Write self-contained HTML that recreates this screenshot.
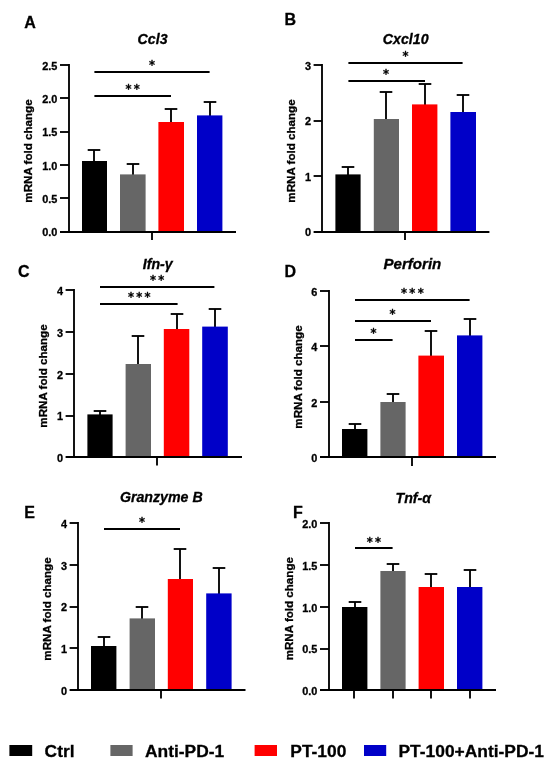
<!DOCTYPE html>
<html lang="en">
<head>
<meta charset="utf-8">
<title>mRNA fold change</title>
<style>
html,body{margin:0;padding:0;background:#fff;}
body{width:550px;height:764px;overflow:hidden;}
svg{display:block;}
text{font-family:"Liberation Sans", sans-serif;fill:#000;stroke:#000;stroke-width:0.3px;}
.tk{font-size:10.9px;font-weight:bold;text-anchor:end;}
.yl{font-size:11.6px;font-weight:bold;text-anchor:middle;}
.tt{font-size:14.2px;font-weight:bold;font-style:italic;text-anchor:middle;}
.pl{font-size:16px;font-weight:bold;}
.st{font-family:"DejaVu Sans","Liberation Sans",sans-serif;font-size:11.5px;font-weight:bold;text-anchor:middle;letter-spacing:2.25px;}
.lg{font-size:17.4px;font-weight:bold;}
.ln{stroke:#000;stroke-width:1.85;fill:none;}
</style>
</head>
<body>
<svg width="550" height="764" viewBox="0 0 550 764">
<rect x="0" y="0" width="550" height="764" fill="#ffffff"/>
<g id="panel-A">
<text class="pl" x="24.2" y="28.2">A</text>
<text class="tt" x="152.6" y="43.6">Ccl3</text>
<text class="yl" transform="translate(29.5,151) rotate(-90)" x="0" y="2.7">mRNA fold change</text>
<line class="ln" x1="94" y1="162" x2="94" y2="150"/><line class="ln" x1="87.7" y1="150" x2="100.3" y2="150"/><rect x="82" y="161" width="25" height="71" fill="#000000"/>
<line class="ln" x1="133" y1="175.4" x2="133" y2="164"/><line class="ln" x1="126.7" y1="164" x2="139.3" y2="164"/><rect x="120" y="174.4" width="25.6" height="57.6" fill="#666666"/>
<line class="ln" x1="171" y1="123" x2="171" y2="109"/><line class="ln" x1="164.7" y1="109" x2="177.3" y2="109"/><rect x="158.4" y="122" width="25.6" height="110" fill="#ff0000"/>
<line class="ln" x1="210" y1="116.4" x2="210" y2="102"/><line class="ln" x1="203.7" y1="102" x2="216.3" y2="102"/><rect x="197" y="115.4" width="25.4" height="116.6" fill="#0000c8"/>
<line class="ln" x1="69" y1="64.08" x2="69" y2="232.93"/>
<line class="ln" x1="60" y1="232" x2="236" y2="232"/>
<text class="tk" x="57.4" y="236.3">0.0</text>
<line class="ln" x1="60" y1="198" x2="69" y2="198"/><text class="tk" x="57.4" y="202.98">0.5</text>
<line class="ln" x1="60" y1="165" x2="69" y2="165"/><text class="tk" x="57.4" y="169.66">1.0</text>
<line class="ln" x1="60" y1="132" x2="69" y2="132"/><text class="tk" x="57.4" y="136.34">1.5</text>
<line class="ln" x1="60" y1="98" x2="69" y2="98"/><text class="tk" x="57.4" y="103.02">2.0</text>
<line class="ln" x1="60" y1="65" x2="69" y2="65"/><text class="tk" x="57.4" y="69.7">2.5</text>
<line class="ln" x1="152" y1="232" x2="152" y2="240"/>
<line class="ln" x1="94.4" y1="72" x2="209.6" y2="72"/><text class="st" x="153.22" y="68.8">*</text>
<line class="ln" x1="94.4" y1="96" x2="171" y2="96"/><text class="st" x="133.82" y="92.8">**</text>
</g>
<g id="panel-B">
<text class="pl" x="284.4" y="24.6">B</text>
<text class="tt" x="405.7" y="43.6">Cxcl10</text>
<text class="yl" transform="translate(292.5,151) rotate(-90)" x="0" y="2.7">mRNA fold change</text>
<line class="ln" x1="348" y1="175.4" x2="348" y2="167"/><line class="ln" x1="341.7" y1="167" x2="354.3" y2="167"/><rect x="335.4" y="174.4" width="25.2" height="57.6" fill="#000000"/>
<line class="ln" x1="386" y1="120" x2="386" y2="92"/><line class="ln" x1="379.7" y1="92" x2="392.3" y2="92"/><rect x="373.8" y="119" width="25.2" height="113" fill="#666666"/>
<line class="ln" x1="425" y1="105.4" x2="425" y2="84"/><line class="ln" x1="418.7" y1="84" x2="431.3" y2="84"/><rect x="412" y="104.4" width="25.4" height="127.6" fill="#ff0000"/>
<line class="ln" x1="463" y1="113" x2="463" y2="95"/><line class="ln" x1="456.7" y1="95" x2="469.3" y2="95"/><rect x="450.4" y="112" width="25.6" height="120" fill="#0000c8"/>
<line class="ln" x1="322" y1="64.08" x2="322" y2="232.93"/>
<line class="ln" x1="313.6" y1="232" x2="489.4" y2="232"/>
<text class="tk" x="311" y="236.2">0</text>
<line class="ln" x1="313.6" y1="176" x2="322" y2="176"/><text class="tk" x="311" y="180.8">1</text>
<line class="ln" x1="313.6" y1="121" x2="322" y2="121"/><text class="tk" x="311" y="125.4">2</text>
<line class="ln" x1="313.6" y1="65" x2="322" y2="65"/><text class="tk" x="311" y="70">3</text>
<line class="ln" x1="405" y1="232" x2="405" y2="240"/>
<line class="ln" x1="348.4" y1="63" x2="462.6" y2="63"/><text class="st" x="406.52" y="59.8">*</text>
<line class="ln" x1="348.4" y1="81" x2="425" y2="81"/><text class="st" x="387.12" y="77.8">*</text>
</g>
<g id="panel-C">
<text class="pl" x="18" y="276.8">C</text>
<text class="tt" x="157.7" y="269.4">Ifn-γ</text>
<text class="yl" transform="translate(44,376) rotate(-90)" x="0" y="2.7">mRNA fold change</text>
<line class="ln" x1="100" y1="415.4" x2="100" y2="411"/><line class="ln" x1="93.7" y1="411" x2="106.3" y2="411"/><rect x="87.4" y="414.4" width="25.2" height="42.6" fill="#000000"/>
<line class="ln" x1="138" y1="365" x2="138" y2="336"/><line class="ln" x1="131.7" y1="336" x2="144.3" y2="336"/><rect x="125.6" y="364" width="25.4" height="93" fill="#666666"/>
<line class="ln" x1="177" y1="330" x2="177" y2="314"/><line class="ln" x1="170.7" y1="314" x2="183.3" y2="314"/><rect x="163.8" y="329" width="25.5" height="128" fill="#ff0000"/>
<line class="ln" x1="215" y1="327.6" x2="215" y2="309"/><line class="ln" x1="208.7" y1="309" x2="221.3" y2="309"/><rect x="202.2" y="326.6" width="25.6" height="130.4" fill="#0000c8"/>
<line class="ln" x1="74" y1="289.07" x2="74" y2="457.93"/>
<line class="ln" x1="65.6" y1="457" x2="242" y2="457"/>
<text class="tk" x="63" y="461.9">0</text>
<line class="ln" x1="65.6" y1="416" x2="74" y2="416"/><text class="tk" x="63" y="420.2">1</text>
<line class="ln" x1="65.6" y1="374" x2="74" y2="374"/><text class="tk" x="63" y="378.5">2</text>
<line class="ln" x1="65.6" y1="332" x2="74" y2="332"/><text class="tk" x="63" y="336.8">3</text>
<line class="ln" x1="65.6" y1="290" x2="74" y2="290"/><text class="tk" x="63" y="295.1">4</text>
<line class="ln" x1="157" y1="457" x2="157" y2="465.6"/>
<line class="ln" x1="100" y1="287" x2="214.4" y2="287"/><text class="st" x="158.32" y="283.8">**</text>
<line class="ln" x1="100" y1="304" x2="177.6" y2="304"/><text class="st" x="140.32" y="300.8">***</text>
</g>
<g id="panel-D">
<text class="pl" x="284.4" y="277.4">D</text>
<text class="tt" style="font-size:15.1px" x="412.4" y="269.2">Perforin</text>
<text class="yl" transform="translate(299.4,377) rotate(-90)" x="0" y="2.7">mRNA fold change</text>
<line class="ln" x1="355" y1="430" x2="355" y2="424"/><line class="ln" x1="348.7" y1="424" x2="361.3" y2="424"/><rect x="342" y="429" width="25.4" height="28" fill="#000000"/>
<line class="ln" x1="393" y1="403" x2="393" y2="394"/><line class="ln" x1="386.7" y1="394" x2="399.3" y2="394"/><rect x="380.4" y="402" width="25.2" height="55" fill="#666666"/>
<line class="ln" x1="431" y1="356.6" x2="431" y2="331"/><line class="ln" x1="424.7" y1="331" x2="437.3" y2="331"/><rect x="418.4" y="355.6" width="25.6" height="101.4" fill="#ff0000"/>
<line class="ln" x1="470" y1="336.4" x2="470" y2="319"/><line class="ln" x1="463.7" y1="319" x2="476.3" y2="319"/><rect x="457" y="335.4" width="25.4" height="121.6" fill="#0000c8"/>
<line class="ln" x1="329" y1="290.07" x2="329" y2="457.93"/>
<line class="ln" x1="320" y1="457" x2="496" y2="457"/>
<text class="tk" x="317.4" y="462.1">0</text>
<line class="ln" x1="320" y1="402" x2="329" y2="402"/><text class="tk" x="317.4" y="406.64">2</text>
<line class="ln" x1="320" y1="346" x2="329" y2="346"/><text class="tk" x="317.4" y="351.18">4</text>
<line class="ln" x1="320" y1="291" x2="329" y2="291"/><text class="tk" x="317.4" y="295.72">6</text>
<line class="ln" x1="412" y1="457" x2="412" y2="466"/>
<line class="ln" x1="355" y1="300" x2="469.6" y2="300"/><text class="st" x="413.52" y="296.8">***</text>
<line class="ln" x1="355" y1="321" x2="431" y2="321"/><text class="st" x="393.52" y="317.8">*</text>
<line class="ln" x1="355" y1="340" x2="392.6" y2="340"/><text class="st" x="374.52" y="336.8">*</text>
</g>
<g id="panel-E">
<text class="pl" x="24.2" y="518.2">E</text>
<text class="tt" x="161.3" y="501.6">Granzyme B</text>
<text class="yl" transform="translate(48,609) rotate(-90)" x="0" y="2.7">mRNA fold change</text>
<line class="ln" x1="104" y1="647" x2="104" y2="637"/><line class="ln" x1="97.7" y1="637" x2="110.3" y2="637"/><rect x="91" y="646" width="25.4" height="44" fill="#000000"/>
<line class="ln" x1="142" y1="619.4" x2="142" y2="607"/><line class="ln" x1="135.7" y1="607" x2="148.3" y2="607"/><rect x="129.6" y="618.4" width="25.4" height="71.6" fill="#666666"/>
<line class="ln" x1="180" y1="580" x2="180" y2="549"/><line class="ln" x1="173.7" y1="549" x2="186.3" y2="549"/><rect x="167.8" y="579" width="25.2" height="111" fill="#ff0000"/>
<line class="ln" x1="219" y1="594.4" x2="219" y2="568"/><line class="ln" x1="212.7" y1="568" x2="225.3" y2="568"/><rect x="206.2" y="593.4" width="25.4" height="96.6" fill="#0000c8"/>
<line class="ln" x1="78" y1="522.08" x2="78" y2="690.92"/>
<line class="ln" x1="69.6" y1="690" x2="245.5" y2="690"/>
<text class="tk" x="67" y="694.7">0</text>
<line class="ln" x1="69.6" y1="648" x2="78" y2="648"/><text class="tk" x="67" y="653">1</text>
<line class="ln" x1="69.6" y1="607" x2="78" y2="607"/><text class="tk" x="67" y="611.3">2</text>
<line class="ln" x1="69.6" y1="565" x2="78" y2="565"/><text class="tk" x="67" y="569.6">3</text>
<line class="ln" x1="69.6" y1="523" x2="78" y2="523"/><text class="tk" x="67" y="527.9">4</text>
<line class="ln" x1="161" y1="690" x2="161" y2="698.4"/>
<line class="ln" x1="104" y1="529" x2="180" y2="529"/><text class="st" x="143.12" y="525.8">*</text>
</g>
<g id="panel-F">
<text class="pl" x="293.1" y="517.6">F</text>
<text class="tt" x="413.3" y="502.6">Tnf-α</text>
<text class="yl" transform="translate(290,608.7) rotate(-90)" x="0" y="2.7">mRNA fold change</text>
<line class="ln" x1="355" y1="608" x2="355" y2="602"/><line class="ln" x1="348.7" y1="602" x2="361.3" y2="602"/><rect x="342" y="607" width="25.4" height="83" fill="#000000"/>
<line class="ln" x1="393" y1="572" x2="393" y2="564"/><line class="ln" x1="386.7" y1="564" x2="399.3" y2="564"/><rect x="380.4" y="571" width="25.2" height="119" fill="#666666"/>
<line class="ln" x1="431" y1="588" x2="431" y2="574"/><line class="ln" x1="424.7" y1="574" x2="437.3" y2="574"/><rect x="418.6" y="587" width="25.4" height="103" fill="#ff0000"/>
<line class="ln" x1="470" y1="588" x2="470" y2="570"/><line class="ln" x1="463.7" y1="570" x2="476.3" y2="570"/><rect x="457" y="587" width="25.4" height="103" fill="#0000c8"/>
<line class="ln" x1="329" y1="522.08" x2="329" y2="690.92"/>
<line class="ln" x1="320" y1="690" x2="496" y2="690"/>
<text class="tk" x="317.4" y="695.1">0.0</text>
<line class="ln" x1="320" y1="649" x2="329" y2="649"/><text class="tk" x="317.4" y="653.35">0.5</text>
<line class="ln" x1="320" y1="607" x2="329" y2="607"/><text class="tk" x="317.4" y="611.6">1.0</text>
<line class="ln" x1="320" y1="565" x2="329" y2="565"/><text class="tk" x="317.4" y="569.85">1.5</text>
<line class="ln" x1="320" y1="523" x2="329" y2="523"/><text class="tk" x="317.4" y="528.1">2.0</text>
<line class="ln" x1="354" y1="690" x2="354" y2="698.6"/>
<line class="ln" x1="393" y1="690" x2="393" y2="698.6"/>
<line class="ln" x1="431" y1="690" x2="431" y2="698.6"/>
<line class="ln" x1="470" y1="690" x2="470" y2="698.6"/>
<line class="ln" x1="355" y1="548" x2="392.6" y2="548"/><text class="st" x="374.93" y="545.8">**</text>
</g>
<g id="legend">
<rect x="9.4" y="745" width="22.8" height="11" fill="#000000"/><text class="lg" x="44.6" y="756.6">Ctrl</text>
<rect x="110.4" y="745" width="22.2" height="11" fill="#666666"/><text class="lg" x="145" y="756.6">Anti-PD-1</text>
<rect x="254.6" y="745" width="22.4" height="11" fill="#ff0000"/><text class="lg" x="290.3" y="756.6">PT-100</text>
<rect x="364" y="745" width="22.2" height="11" fill="#0000c8"/><text class="lg" x="398.5" y="756.6">PT-100+Anti-PD-1</text>
</g>
</svg>
</body>
</html>
